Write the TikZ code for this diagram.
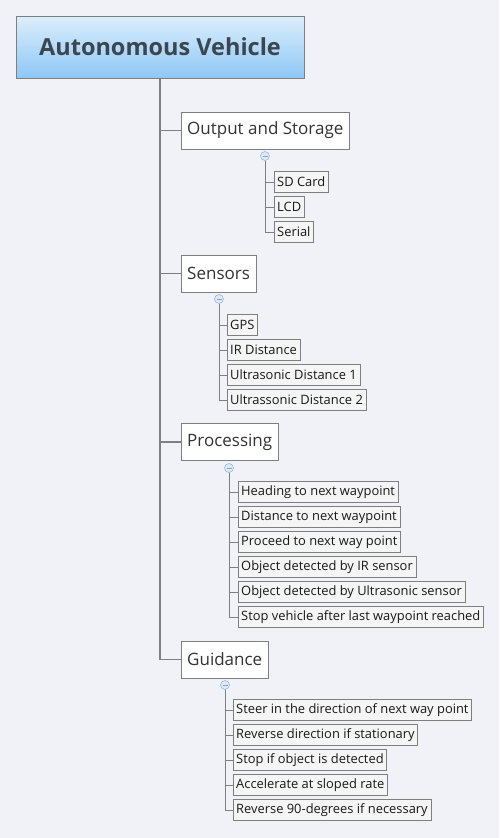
\documentclass[tikz,border=0pt]{standalone}
\usepackage{fontspec}
\setmainfont{Open Sans}
\definecolor{bgcol}{HTML}{F0F2F7}
\definecolor{linecol}{HTML}{7F7F7F}
\definecolor{subfill}{HTML}{F5F5F5}
\definecolor{foldcol}{HTML}{7FA6D3}
\definecolor{foldfill}{HTML}{DDE9F7}
\definecolor{rootdark}{HTML}{3B4750}
\definecolor{roottop}{HTML}{DCEEFC}
\definecolor{rootbot}{HTML}{8EC7F5}

\begin{document}
\begin{tikzpicture}[x=1pt,y=-1pt,
    root/.style={draw=linecol,top color=roottop,bottom color=rootbot,
        minimum width=288pt,minimum height=62pt,text=rootdark,font=\fontsize{23.5}{26}\selectfont\bfseries},
    topic/.style={draw=linecol,fill=white,anchor=west,minimum height=37pt,inner xsep=6pt,
        text=black!80,font=\fontsize{17}{19}\selectfont},
    sub/.style={draw=linecol,fill=subfill,anchor=west,minimum height=21pt,inner xsep=3pt,inner ysep=0pt,
        text=black!90,font=\fontsize{12.9}{15}\selectfont},
    fold/.style={circle,draw=foldcol,fill=foldfill,inner sep=0pt,minimum size=9pt,
        path picture={\draw[foldcol,line width=0.9pt] ([xshift=-2.5pt]path picture bounding box.center)
            -- ([xshift=2.5pt]path picture bounding box.center);}},
    link/.style={draw=linecol,line width=0.8pt}]
    \fill[bgcol] (0,0) rectangle (499,838);

    \node[root] at (160,47) (av) {Autonomous Vehicle};

    \node[topic] at (181,130.5) (out) {Output and Storage};
    \node[topic] at (181,273.5) (sen) {Sensors};
    \node[topic] at (181,442) (pro) {Processing};
    \node[topic] at (181,659.5) (gui) {Guidance};

    \node[fold] at (265,156) (fout) {};
    \node[fold] at (219,299) (fsen) {};
    \node[fold] at (229,468) (fpro) {};
    \node[fold] at (225,685) (fgui) {};

    \node[sub] at (274,182) (sd) {SD Card};
    \node[sub] at (274,207) (lcd) {LCD};
    \node[sub] at (274,232) (ser) {Serial};

    \node[sub] at (227,325) (gps) {GPS};
    \node[sub] at (227,350) (ir) {IR Distance};
    \node[sub] at (227,375) (us1) {Ultrasonic Distance 1};
    \node[sub] at (227,400) (us2) {Ultrassonic Distance 2};

    \node[sub] at (238,492) (head) {Heading to next waypoint};
    \node[sub] at (238,517) (dist) {Distance to next waypoint};
    \node[sub] at (238,542) (proc) {Proceed to next way point};
    \node[sub] at (238,567) (objir) {Object detected by IR sensor};
    \node[sub] at (238,592) (objus) {Object detected by Ultrasonic sensor};
    \node[sub] at (238,617) (stop) {Stop vehicle after last waypoint reached};

    \node[sub] at (233,710) (steer) {Steer in the direction of next way point};
    \node[sub] at (233,735) (rev) {Reverse direction if stationary};
    \node[sub] at (233,760) (halt) {Stop if object is detected};
    \node[sub] at (233,785) (acc) {Accelerate at sloped rate};
    \node[sub] at (233,810) (turn) {Reverse 90-degrees if necessary};

    % main trunk
    \draw[link,line width=1.1pt] (av.south) |- (out.west);
    \draw[link,line width=1.1pt] (av.south) |- (sen.west);
    \draw[link,line width=1.1pt] (av.south) |- (pro.west);
    \draw[link,line width=1.1pt] (av.south) |- (gui.west);

    % output and storage
    \draw[link] (fout.south) |- (sd.west);
    \draw[link] (fout.south) |- (lcd.west);
    \draw[link] (fout.south) |- (ser.west);

    % sensors
    \draw[link] (fsen.south) |- (gps.west);
    \draw[link] (fsen.south) |- (ir.west);
    \draw[link] (fsen.south) |- (us1.west);
    \draw[link] (fsen.south) |- (us2.west);

    % processing
    \draw[link] (fpro.south) |- (head.west);
    \draw[link] (fpro.south) |- (dist.west);
    \draw[link] (fpro.south) |- (proc.west);
    \draw[link] (fpro.south) |- (objir.west);
    \draw[link] (fpro.south) |- (objus.west);
    \draw[link] (fpro.south) |- (stop.west);

    % guidance
    \draw[link] (fgui.south) |- (steer.west);
    \draw[link] (fgui.south) |- (rev.west);
    \draw[link] (fgui.south) |- (halt.west);
    \draw[link] (fgui.south) |- (acc.west);
    \draw[link] (fgui.south) |- (turn.west);
\end{tikzpicture}
\end{document}
